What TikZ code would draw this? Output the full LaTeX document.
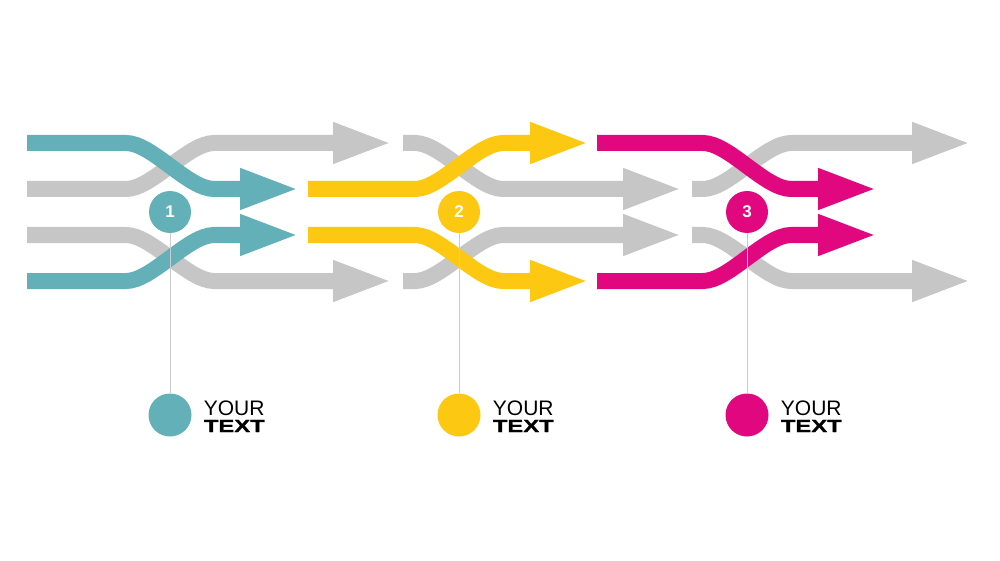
\documentclass[tikz,border=0pt]{standalone}
\usepackage{fontspec}
\setmainfont{Liberation Sans}
\newfontfamily\heavyfont[FakeBold=1.2,FakeStretch=1.36]{Liberation Sans Bold}
\usetikzlibrary{arrows.meta}

\definecolor{tealband}{HTML}{63B0B9}
\definecolor{yellowband}{HTML}{FCC812}
\definecolor{magentaband}{HTML}{E1077F}
\definecolor{greyband}{HTML}{C6C6C6}
\definecolor{stemgrey}{HTML}{CCCCCC}

\begin{document}
\begin{tikzpicture}[x=1pt,y=-1pt,
    band/.style={line width=16pt,-{Triangle[length=60pt,width=37pt]}},
    num/.style={circle,fill=#1,minimum size=42pt,inner sep=0pt,text=white,
      font=\bfseries\fontsize{17}{17}\selectfont},
    dot/.style={circle,fill=#1,minimum size=43pt,inner sep=0pt},
    stem/.style={draw=stemgrey,line width=1pt}
  ]
  \useasboundingbox (0,0) rectangle (1000,561);
  % crossing / colour start / colour tip / grey start / grey tip / rows / colour / number
  \foreach \c/\s/\t/\g/\u/\a/\b/\col/\n in {
      170/27/300/27/393/143/189/tealband/1,
      459/308/590/403/683/189/143/yellowband/2,
      747/597/878/692/972/143/189/magentaband/3} {
    % grey bands first, the coloured ones cross over them
    \draw[band,greyband] (\g,\b) -- (\c-44,\b)
      .. controls (\c-18,\b) and (\c+18,\a) .. (\c+44,\a) -- (\u,\a);
    \draw[band,greyband] (\g,424-\b) -- (\c-44,424-\b)
      .. controls (\c-18,424-\b) and (\c+18,424-\a) .. (\c+44,424-\a) -- (\u,424-\a);
    \draw[band,\col] (\s,\a) -- (\c-44,\a)
      .. controls (\c-18,\a) and (\c+18,\b) .. (\c+44,\b) -- (\t,\b);
    \draw[band,\col] (\s,424-\a) -- (\c-44,424-\a)
      .. controls (\c-18,424-\a) and (\c+18,424-\b) .. (\c+44,424-\b) -- (\t,424-\b);
    \node[num=\col] (n\n) at (\c,212) {\n};
    \node[dot=\col] (d\n) at (\c,415) {};
    \draw[stem] (n\n) -- (d\n);
    \node[anchor=base west,inner sep=0pt,font=\fontsize{21}{21}\selectfont]
      (y\n) at ([xshift=12pt]d\n.east) {YOUR};
    \node[anchor=base west,inner sep=0pt,font=\heavyfont\fontsize{17.5}{17.5}\selectfont]
      (x\n) at ([yshift=-17pt]y\n.base west) {TEXT};
  }
\end{tikzpicture}
\end{document}
